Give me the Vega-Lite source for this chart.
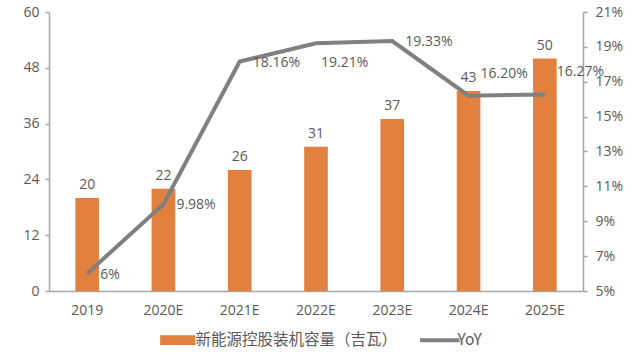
{
  "$schema": "https://vega.github.io/schema/vega-lite/v6.json",
  "width": 534,
  "height": 279,
  "autosize": "none",
  "padding": {"left": 49, "top": 12, "right": 57, "bottom": 65},
  "config": {
    "view": {"stroke": null},
    "font": "Open Sans",
    "axis": {
      "grid": false,
      "domainColor": "#A6A6A6",
      "domainWidth": 1.5,
      "tickColor": "#A6A6A6",
      "tickWidth": 1.5,
      "tickSize": 4,
      "labelColor": "#595959",
      "labelFontSize": 14,
      "labelFont": "Open Sans",
      "title": null
    },
    "text": {"font": "Open Sans", "fontSize": 14, "fill": "#595959"}
  },
  "data": {
    "values": [
      {"year": "2019", "cap": 20, "yoy": 0.06, "yoyLabel": "6%"},
      {"year": "2020E", "cap": 22, "yoy": 0.0998, "yoyLabel": "9.98%"},
      {"year": "2021E", "cap": 26, "yoy": 0.1816, "yoyLabel": "18.16%"},
      {"year": "2022E", "cap": 31, "yoy": 0.1921, "yoyLabel": "19.21%"},
      {"year": "2023E", "cap": 37, "yoy": 0.1933, "yoyLabel": "19.33%"},
      {"year": "2024E", "cap": 43, "yoy": 0.162, "yoyLabel": "16.20%"},
      {"year": "2025E", "cap": 50, "yoy": 0.1627, "yoyLabel": "16.27%"}
    ]
  },
  "encoding": {
    "x": {
      "field": "year",
      "type": "nominal",
      "sort": null,
      "scale": {"paddingInner": 0.69, "paddingOuter": 0.345},
      "axis": {"ticks": false, "labelPadding": 12, "labelAngle": 0}
    }
  },
  "layer": [
    {
      "encoding": {
        "y": {
          "field": "cap",
          "type": "quantitative",
          "scale": {"domain": [0, 60], "nice": false},
          "axis": {"values": [0, 12, 24, 36, 48, 60], "orient": "left", "labelPadding": 6}
        }
      },
      "layer": [
        {
          "mark": {"type": "bar"},
          "encoding": {
            "color": {
              "datum": "新能源控股装机容量（吉瓦）",
              "scale": {"domain": ["新能源控股装机容量（吉瓦）", "YoY"], "range": ["#E2813F", "#808080"]},
              "legend": {
                "orient": "none",
                "legendX": 121,
                "legendY": 320,
                "direction": "horizontal",
                "title": null,
                "symbolSize": 484,
                "labelFontSize": 15.5,
                "labelFont": "Noto Sans CJK SC",
                "labelColor": "#595959",
                "labelOffset": 10,
                "labelLimit": 0,
                "columnPadding": 13,
                "encode": {
                  "symbols": {
                    "update": {
                      "shape": {"signal": "datum.label == 'YoY' ? 'M-1.8,0L1.8,0' : 'M-1.6,-0.45L1.6,-0.45L1.6,0.45L-1.6,0.45Z'"},
                      "fill": {"signal": "datum.label == 'YoY' ? 'transparent' : '#E2813F'"},
                      "stroke": {"signal": "datum.label == 'YoY' ? '#808080' : 'transparent'"},
                      "strokeWidth": {"signal": "datum.label == 'YoY' ? 4 : 0"},
                      "size": {"value": 484},
                      "opacity": {"value": 1}
                    }
                  }
                }
              }
            }
          }
        },
        {
          "mark": {"type": "text", "baseline": "bottom", "dy": -6},
          "encoding": {"text": {"field": "cap", "type": "quantitative"}}
        }
      ]
    },
    {
      "encoding": {
        "y": {
          "field": "yoy",
          "type": "quantitative",
          "scale": {"domain": [0.05, 0.21], "nice": false},
          "axis": {
            "values": [0.05, 0.07, 0.09, 0.11, 0.13, 0.15, 0.17, 0.19, 0.21],
            "format": ".0%",
            "orient": "right",
            "labelPadding": 8
          }
        }
      },
      "layer": [
        {
          "mark": {"type": "line", "strokeWidth": 4},
          "encoding": {"color": {"datum": "YoY"}}
        },
        {
          "transform": [{"filter": "indexof(['2019','2020E','2021E','2023E'], datum.year) >= 0"}],
          "mark": {"type": "text", "align": "left", "baseline": "middle", "dx": 13, "dy": 1},
          "encoding": {"text": {"field": "yoyLabel"}}
        },
        {
          "transform": [{"filter": "datum.year == '2022E'"}],
          "mark": {"type": "text", "align": "left", "baseline": "middle", "dx": 5, "dy": 20},
          "encoding": {"text": {"field": "yoyLabel"}}
        },
        {
          "transform": [{"filter": "datum.year == '2024E' || datum.year == '2025E'"}],
          "mark": {"type": "text", "align": "left", "baseline": "middle", "dx": 12, "dy": -22},
          "encoding": {"text": {"field": "yoyLabel"}}
        }
      ]
    }
  ],
  "resolve": {"scale": {"y": "independent"}}
}
